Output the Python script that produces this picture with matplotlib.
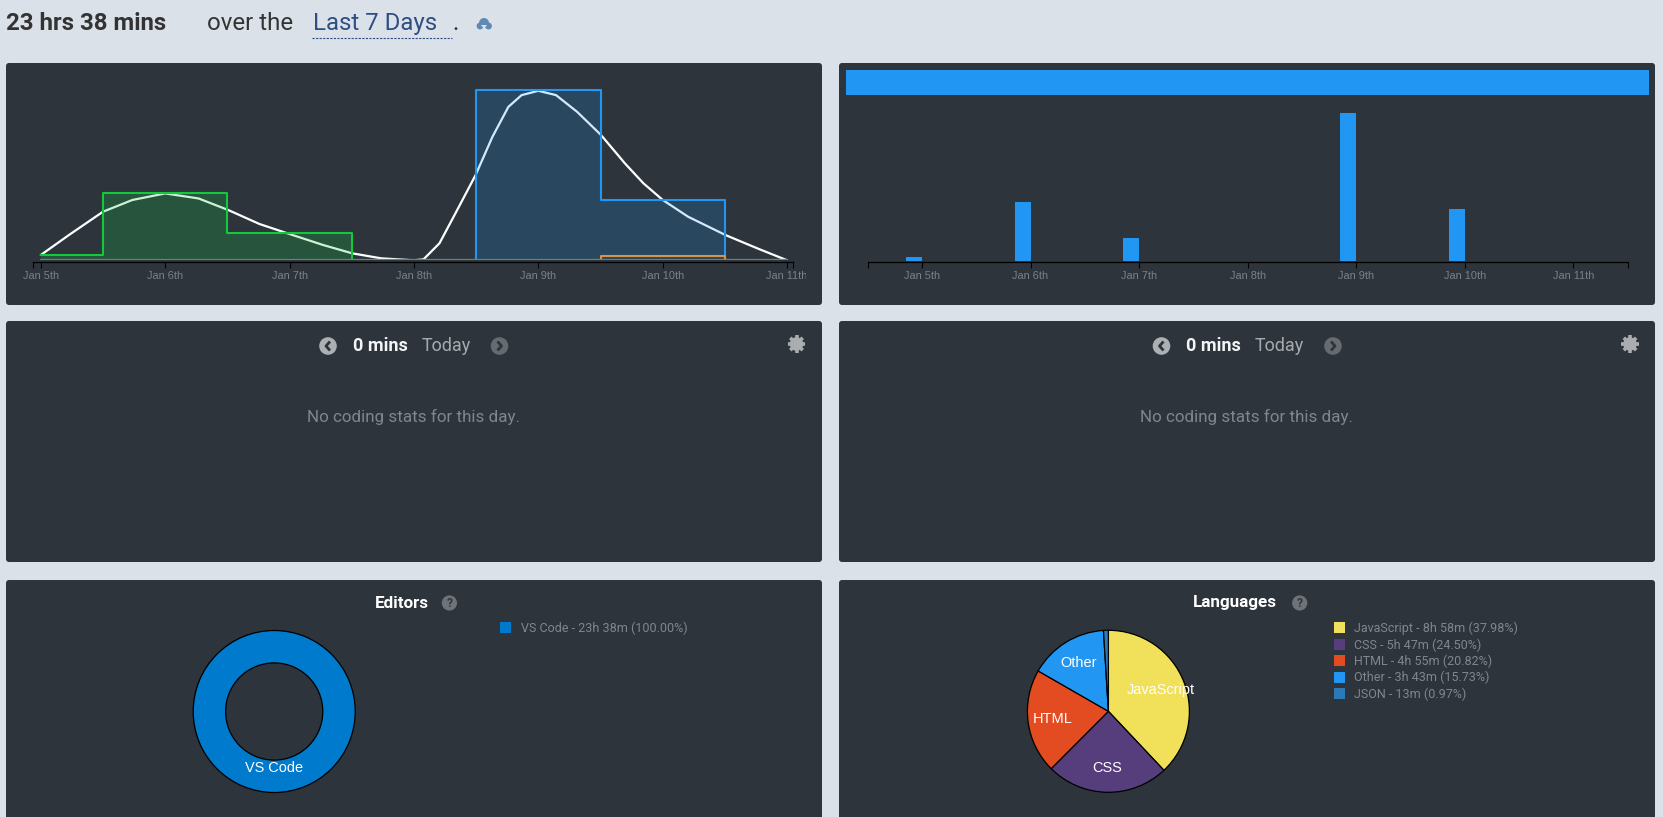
import matplotlib
matplotlib.use('Agg')
import matplotlib.pyplot as plt
from matplotlib.patches import FancyBboxPatch, Rectangle, Circle, Polygon
from matplotlib.transforms import Bbox

W, H = 1663, 817
BG = '#dae1e9'
PANEL = '#2d343c'
GRAY = '#80868c'
UI_FONT = 'Roboto'
SVG_FONT = 'Liberation Sans'

days = [0, 1, 2, 3, 4, 5, 6]
day_labels = ['Jan 5th', 'Jan 6th', 'Jan 7th', 'Jan 8th', 'Jan 9th', 'Jan 10th', 'Jan 11th']

# hours per project
project_green = [0.36, 4.84, 1.93, 0, 0, 0, 0]
project_blue = [0, 0, 0, 0, 12.23, 4.34, 0]
project_orange = [0, 0, 0, 0, 0, 0.29, 0]
project_purple = [0, 0, 0, 0, 0, 0, 0]

# white total curve
curve_x = [0, .226, .50, .736, 1.0, 1.268, 1.507, 1.758, 2.0, 2.268, 2.503, 2.737, 3.0, 3.077, 3.205, 3.333,
           3.495, 3.631, 3.759, 3.865, 4.0, 4.142, 4.312, 4.504, 4.696, 4.845, 5.0, 5.204, 5.504, 5.759, 6.0]
curve_y = [.38, 1.81, 3.48, 4.32, 4.79, 4.43, 3.60, 2.60, 1.88, 1.10, .50, .14, 0, .07, 1.22, 3.36,
           6.10, 8.85, 10.99, 11.83, 12.14, 11.83, 10.63, 8.97, 6.94, 5.51, 4.32, 3.12, 1.81, .86, 0]

daily_hours = [0.33, 4.88, 1.90, 0, 12.23, 4.30, 0]

editor_values = [100.0]
editor_names = ['VS Code']
editor_colors = ['#007acc']
editor_legend = ['VS Code - 23h 38m (100.00%)']

lang_values = [37.98, 24.50, 20.82, 15.73, 0.97]
lang_names = ['JavaScript', 'CSS', 'HTML', 'Other', '']
lang_colors = ['#f1e05a', '#563d7c', '#e34c20', '#2196f3', '#2b7ab8']
lang_legend = ['JavaScript - 8h 58m (37.98%)', 'CSS - 5h 47m (24.50%)', 'HTML - 4h 55m (20.82%)',
               'Other - 3h 43m (15.73%)', 'JSON - 13m (0.97%)']


def px(size):
    return size * 0.72


def axes_px(x0, y0, x1, y1):
    ax = fig.add_axes([x0 / W, 1 - y1 / H, (x1 - x0) / W, (y1 - y0) / H])
    ax.patch.set_alpha(0)
    return ax


def panel(x0, y0, x1, y1):
    r = 3
    bg.add_patch(FancyBboxPatch((x0 + r, y0 + r), x1 - x0 - 2 * r, y1 - y0 - 2 * r,
                                boxstyle=f'round,pad={r},rounding_size={r}', fc=PANEL, ec='none'))


def style_time_axis(ax, ends, labels_at, labels, offset):
    for name in ['top', 'left', 'right']:
        ax.spines[name].set_visible(False)
    ax.spines['bottom'].set_position(('outward', offset))
    ax.spines['bottom'].set_linewidth(0.9)
    ax.set_yticks([])
    ax.set_xticks(labels_at)
    ax.set_xticklabels(labels, fontsize=px(11), color='#7d8185', family=SVG_FONT)
    ax.set_xticks(ends, minor=True)
    ax.tick_params(axis='x', which='both', length=4.6, width=0.8, color='black', pad=2.2)


def day_stats(dx):
    chevron_button(328 + dx, 346, -1, '#adb0b3')
    bg.text(353 + dx, 345.5, '0 mins', fontsize=px(18), fontweight='bold', color='#f2f4f6', family=UI_FONT, va='center')
    bg.text(421.5 + dx, 345.5, 'Today', fontsize=px(18), color='#a7abaf', family=UI_FONT, va='center')
    chevron_button(499.5 + dx, 346, 1, '#666b70')
    gear(796.5 + dx, 344)
    bg.text(413.5 + dx, 417, 'No coding stats for this day.', fontsize=px(17), color=GRAY,
            family=UI_FONT, va='center', ha='center')


def chevron_button(x, y, side, color):
    bg.add_patch(Circle((x, y), 8.8, fc=color, ec='none'))
    bg.plot([x - 2 * side, x + 2 * side, x - 2 * side], [y - 4.5, y, y + 4.5], color=PANEL, lw=2, solid_capstyle='butt')


def gear(x, y):
    color = '#a9adb0'
    for a, b in [(0, 8.8), (6.2, 6.2), (8.8, 0), (6.2, -6.2), (0, -8.8), (-6.2, -6.2), (-8.8, 0), (-6.2, 6.2)]:
        bg.plot([x, x + a], [y, y + b], color=color, lw=2.6, solid_capstyle='butt')
    bg.add_patch(Circle((x, y), 6.8, fc=color, ec='none'))
    bg.add_patch(Circle((x, y), 2.8, fc=PANEL, ec='none'))


def help_icon(x, y):
    bg.add_patch(Circle((x, y), 7.6, fc='#6f7377', ec='none'))
    bg.text(x, y + 0.3, '?', fontsize=px(12), fontweight='bold', color=PANEL, family=UI_FONT, ha='center', va='center')


def legend(x, text_x, ys, labels, colors):
    for y, label, color in zip(ys, labels, colors):
        bg.add_patch(Rectangle((x, y - 6), 11, 11, fc=color, ec='none'))
        bg.text(text_x, y, label, fontsize=px(12.5), color=GRAY, family=UI_FONT, va='center')


def pie_chart(cx, cy, values, names, colors, width=None):
    radius_px = 81
    margin = 1.1
    size = radius_px * margin
    ax = axes_px(cx - size, cy - size, cx + size, cy + size)
    wedgeprops = {'edgecolor': 'black', 'linewidth': 0.9}
    if width:
        wedgeprops['width'] = width
    wedges, texts = ax.pie(values, labels=names, colors=colors, startangle=90, counterclock=False,
                           labeldistance=0.7, wedgeprops=wedgeprops)
    for t in texts:
        t.set(ha='center', va='center', color='white', fontsize=px(14.5), family=SVG_FONT)
    ax.set_xlim(-margin, margin)
    ax.set_ylim(-margin, margin)


fig = plt.figure(figsize=(W / 100, H / 100), dpi=100, facecolor=BG)
bg = fig.add_axes([0, 0, 1, 1])
bg.set_xlim(0, W)
bg.set_ylim(H, 0)
bg.axis('off')

# header
header_color = '#333333'
link_color = '#2f4f82'
bg.text(6, 23, '23 hrs 38 mins', fontsize=px(24), fontweight='bold', color=header_color, family=UI_FONT, va='center')
bg.text(207, 23, 'over the', fontsize=px(24), color=header_color, family=UI_FONT, va='center')
bg.text(313, 23, 'Last 7 Days', fontsize=px(24), color=link_color, family=UI_FONT, va='center')
bg.text(452, 23, '.', fontsize=px(24), color=header_color, family=UI_FONT, va='center')
bg.plot([312, 452], [37.5, 37.5], color=link_color, lw=0.8, ls=(0, (2, 1.2)))

# download icon
cloud = '#5f8ab3'
for cx, cy, r in [(480, 26, 3.4), (484, 23, 5), (488.5, 26, 3.4)]:
    bg.add_patch(Circle((cx, cy), r, fc=cloud, ec='none'))
bg.add_patch(Polygon([(481, 25), (487, 25), (484, 29)], fc=BG, ec='none'))

panel(6, 63, 822, 305)
panel(839, 63, 1655, 305)
panel(6, 321, 822, 562)
panel(839, 321, 1655, 562)
panel(6, 580, 822, 840)
panel(839, 580, 1655, 840)

# step chart
ax1 = axes_px(33, 70, 793, 260.3)
ax1.set_xlim(-0.0627, 6.047)
ax1.set_ylim(0, 13.63)
ax1.plot(curve_x, curve_y, color='white', lw=1.6, zorder=1, solid_capstyle='round')
ax1.fill_between(days, project_green, step='mid', color='#14c83c', alpha=0.22, lw=0, zorder=2)
ax1.fill_between(days, project_blue, step='mid', color='#2196f3', alpha=0.2, lw=0, zorder=2)
ax1.step(days, project_green, where='mid', color='#14c83c', lw=1.5, zorder=3)
ax1.step(days, project_blue, where='mid', color='#2196f3', lw=1.5, zorder=3)
ax1.step(days, project_orange, where='mid', color='#d8924a', lw=1.5, zorder=3)
ax1.step(days, project_purple, where='mid', color='#9b59b6', lw=1.3, zorder=4)
style_time_axis(ax1, [-0.0627, 6.047], days, day_labels, 1)
for label in ax1.get_xticklabels():
    label.set_clip_on(True)
    label.set_clip_box(Bbox([[0, 0], [806, H]]))

# daily bars
bg.add_patch(Rectangle((846, 70), 803, 25, fc='#2196f3', ec='none'))
ax2 = axes_px(867.7, 100, 1627.6, 261)
ax2.set_xlim(-0.5, 6.5)
ax2.set_ylim(0, 13.3)
ax2.bar(days, daily_hours, width=-0.147, align='edge', color='#2196f3')
style_time_axis(ax2, [-0.5, 6.5], days, day_labels, 0.5)

day_stats(0)
day_stats(833.5)

# editors
bg.text(401.5, 603, 'Editors', fontsize=px(17), fontweight='bold', color='white', family=UI_FONT, ha='center', va='center')
help_icon(449.4, 603)
pie_chart(274.2, 711.5, editor_values, editor_names, editor_colors, width=0.4)
legend(500, 521, [628], editor_legend, editor_colors)

# languages
bg.text(1235.3, 603, 'Languages', fontsize=px(17), fontweight='bold', color='white', family=UI_FONT, ha='center', va='center')
help_icon(1299.7, 603)
pie_chart(1108.4, 711.3, lang_values, lang_names, lang_colors)
legend(1334.3, 1354.5, [628, 645, 661, 677.5, 694], lang_legend, lang_colors)

fig.savefig('out.png', dpi=100, facecolor=BG)
